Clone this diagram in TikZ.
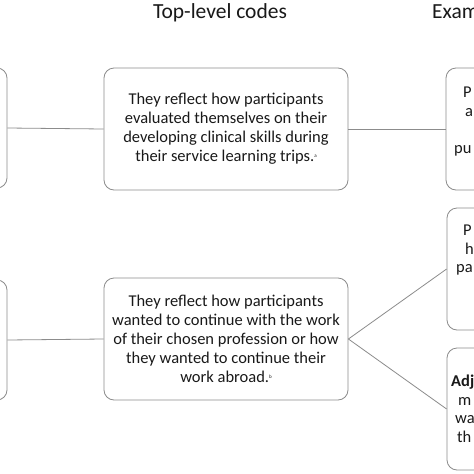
\documentclass[tikz,border=0pt]{standalone}
\usepackage{fontspec}
\setmainfont{Carlito}
\definecolor{boxgray}{RGB}{140,140,140}
\definecolor{txt}{RGB}{25,25,25}
\begin{document}
\begin{tikzpicture}[x=1pt,y=-1pt,
  box/.style={draw=boxgray, rounded corners=10pt, line width=0.8pt,
    minimum width=244pt, minimum height=122pt, inner sep=0pt,
    text=txt, align=center,
    font=\fontsize{16.5pt}{19pt}\selectfont},
  conn/.style={draw=boxgray, line width=0.8pt},
  frag/.style={anchor=base west, inner sep=0pt, text=txt,
    font=\fontsize{16.5pt}{19pt}\selectfont},
  title/.style={inner sep=0pt, text=txt, font=\fontsize{21.5pt}{24pt}\selectfont}]
\useasboundingbox (0,0) rectangle (474,474);
\clip (0,0) rectangle (474,474);
\fill[white] (0,0) rectangle (474,474);

\node[title, anchor=base] (t1) at (220,18) {Top-level codes};
\node[title, anchor=base west] (t2) at (432,18) {Exam};

\node[box, minimum height=120pt] (L1) at (-115,128) {};
\node[box, minimum height=120pt] (L2) at (-115,340) {};

\node[box] (C1) at (226,129) {They reflect how participants\\evaluated themselves on their\\developing clinical skills during\\their service learning trips.\raisebox{0.5ex}{\fontsize{5pt}{6pt}\selectfont a}};
\node[box] (C2) at (226,339) {They reflect how participants\\wanted to continue with the work\\of their chosen profession or how\\they wanted to continue their\\work abroad.\raisebox{0.5ex}{\fontsize{5pt}{6pt}\selectfont b}};

\node[box] (R1) at (568,129) {};
\node[box] (R2) at (569,269) {};
\node[box] (R3) at (569,409) {};

\draw[conn] (L1.east) -- (C1.west);
\draw[conn] (C1.east) -- (R1.west);
\draw[conn] (L2.east) -- (C2.west);
\draw[conn] (C2.east) -- (R2.west);
\draw[conn] (C2.east) -- (R3.west);

\node[frag] (r1a) at (463,97) {P};
\node[frag] (r1b) at (465,116) {a};
\node[frag] (r1c) at (454,153) {pu};

\node[frag] (r2a) at (463,235) {P};
\node[frag] (r2b) at (465,254) {h};
\node[frag] (r2c) at (456,272) {pa};

\node[frag, font=\fontsize{16.5pt}{19pt}\selectfont\bfseries] (r3a) at (451,386) {Adj};
\node[frag] (r3b) at (458,405) {m};
\node[frag] (r3c) at (455,423) {wa};
\node[frag] (r3d) at (457,442) {th};
\end{tikzpicture}
\end{document}
